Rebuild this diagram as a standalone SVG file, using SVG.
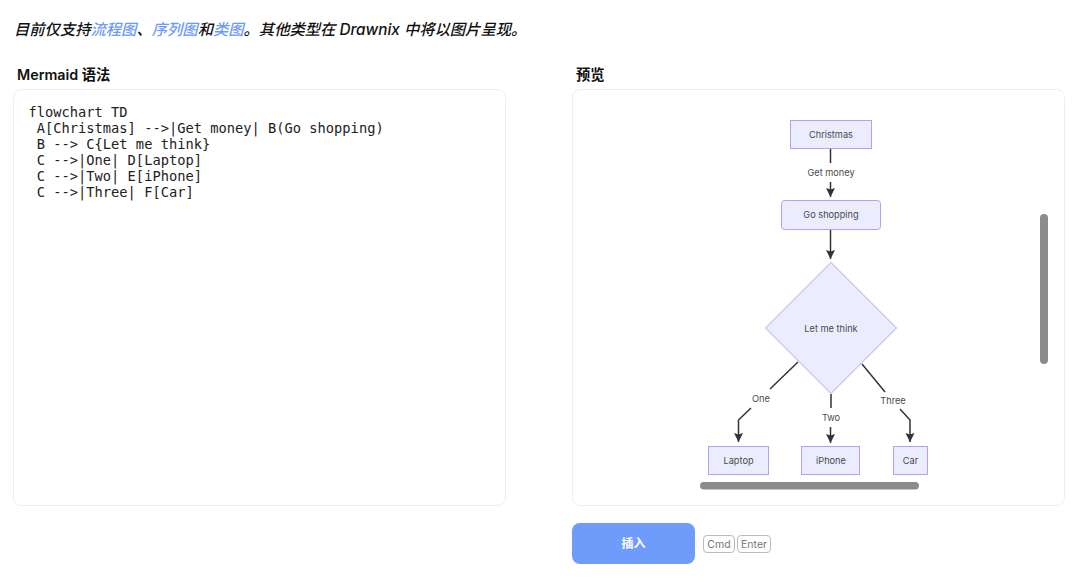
<svg xmlns="http://www.w3.org/2000/svg" width="1080" height="586" viewBox="0 0 1080 586">
<style>
.ui{font-family:"Inter","Noto Sans CJK SC","Liberation Sans",sans-serif}
.head{font-size:14.3px;font-weight:600;fill:#111}
.panel{fill:#fff;stroke:#eeeeee;stroke-width:1}
.code{font-family:"DejaVu Sans Mono",monospace;font-size:13.72px;fill:#222}
.n{fill:#ececff;stroke:#b5a2ee;stroke-width:1}
.t{font-family:"Inter","Liberation Sans",sans-serif;font-size:9.2px;fill:#4a4a4a;text-anchor:middle}
.e{fill:none;stroke:#333;stroke-width:1.5}
.bar{fill:#8c8c8c}
.key{fill:#fff;stroke:#bbb;stroke-width:1}
.kt{font-family:"Inter","Liberation Sans",sans-serif;font-size:10.5px;fill:#777;text-anchor:middle}
</style>
<defs><marker id="a" markerUnits="userSpaceOnUse" markerWidth="10" markerHeight="10" refX="9" refY="5" orient="auto"><path d="M0 0.500L9 5L0 9.500L1.500 5Z" fill="#333"/></marker></defs>
<rect width="1080" height="586" fill="#fff"/>
<text id="notice" class="ui" x="14" y="35" font-size="15.3" font-style="italic" font-weight="500" fill="#111">目前仅支持<tspan fill="#6f9bf8">流程图</tspan>、<tspan fill="#6f9bf8">序列图</tspan>和<tspan fill="#6f9bf8">类图</tspan>。其他类型在 Drawnix 中将以图片呈现。</text>
<text class="ui head" x="17" y="80">Mermaid 语法</text>
<text class="ui head" x="576" y="80">预览</text>
<g id="editor">
<rect class="panel" x="13.500" y="89.500" width="492" height="416" rx="8"/>
<text class="code" xml:space="preserve"><tspan x="28.500" y="117">flowchart TD</tspan><tspan x="28.500" y="133"> A[Christmas] --&gt;|Get money| B(Go shopping)</tspan><tspan x="28.500" y="149"> B --&gt; C{Let me think}</tspan><tspan x="28.500" y="165"> C --&gt;|One| D[Laptop]</tspan><tspan x="28.500" y="181"> C --&gt;|Two| E[iPhone]</tspan><tspan x="28.500" y="197"> C --&gt;|Three| F[Car]</tspan></text>
</g>
<g id="preview"><rect class="panel" x="572.500" y="89.500" width="492" height="416" rx="8"/></g>
<g id="connectors">
<path class="e" d="M830.500 149V163"/>
<path class="e" marker-end="url(#a)" d="M830.500 182V197"/>
<path class="e" marker-end="url(#a)" d="M830.500 229V259"/>
<path class="e" d="M798 362L770 389"/>
<path class="e" marker-end="url(#a)" d="M751 408L738.500 420V442"/>
<path class="e" d="M831 394V408"/>
<path class="e" marker-end="url(#a)" d="M830.500 427V443"/>
<path class="e" d="M862 364L885 392"/>
<path class="e" marker-end="url(#a)" d="M900 409L910 420V442"/>
</g>
<g id="christmas"><rect class="n" x="790.500" y="120.500" width="81" height="28"/><text class="t" x="831" y="137.500">Christmas</text></g>
<text class="t" x="831" y="175.500">Get money</text>
<g id="shopping"><rect class="n" x="781.500" y="200.500" width="99" height="29" rx="3"/><text class="t" x="831" y="218">Go shopping</text></g>
<g id="think"><path class="n" d="M831 262.500L896.500 328L831 393.500L765.500 328Z"/><text class="t" x="831" y="331.500">Let me think</text></g>
<text class="t" x="761" y="401.500">One</text>
<text class="t" x="831" y="420.500">Two</text>
<text class="t" x="893" y="403.500">Three</text>
<g id="laptop"><rect class="n" x="708.500" y="446.500" width="60" height="28"/><text class="t" x="738.500" y="463.500">Laptop</text></g>
<g id="iphone"><rect class="n" x="801.500" y="446.500" width="58" height="28"/><text class="t" x="831" y="463.500">iPhone</text></g>
<g id="car"><rect class="n" x="893.500" y="446.500" width="34" height="28"/><text class="t" x="910.500" y="463.500">Car</text></g>
<rect class="bar" x="700" y="482" width="219" height="7.500" rx="3.700"/>
<rect class="bar" x="1040" y="214" width="8" height="150" rx="4"/>
<g id="insert"><rect x="572" y="523" width="123" height="41" rx="8" fill="#6f9bfb"/><text class="ui" x="633.500" y="548" font-size="12" font-weight="600" fill="#fff" text-anchor="middle">插入</text></g>
<g id="cmd"><rect class="key" x="703.500" y="535.500" width="31" height="17" rx="3.500"/><text class="kt" x="719" y="548">Cmd</text></g>
<g id="enter"><rect class="key" x="737.500" y="535.500" width="33" height="17" rx="3.500"/><text class="kt" x="754" y="548">Enter</text></g>
</svg>
